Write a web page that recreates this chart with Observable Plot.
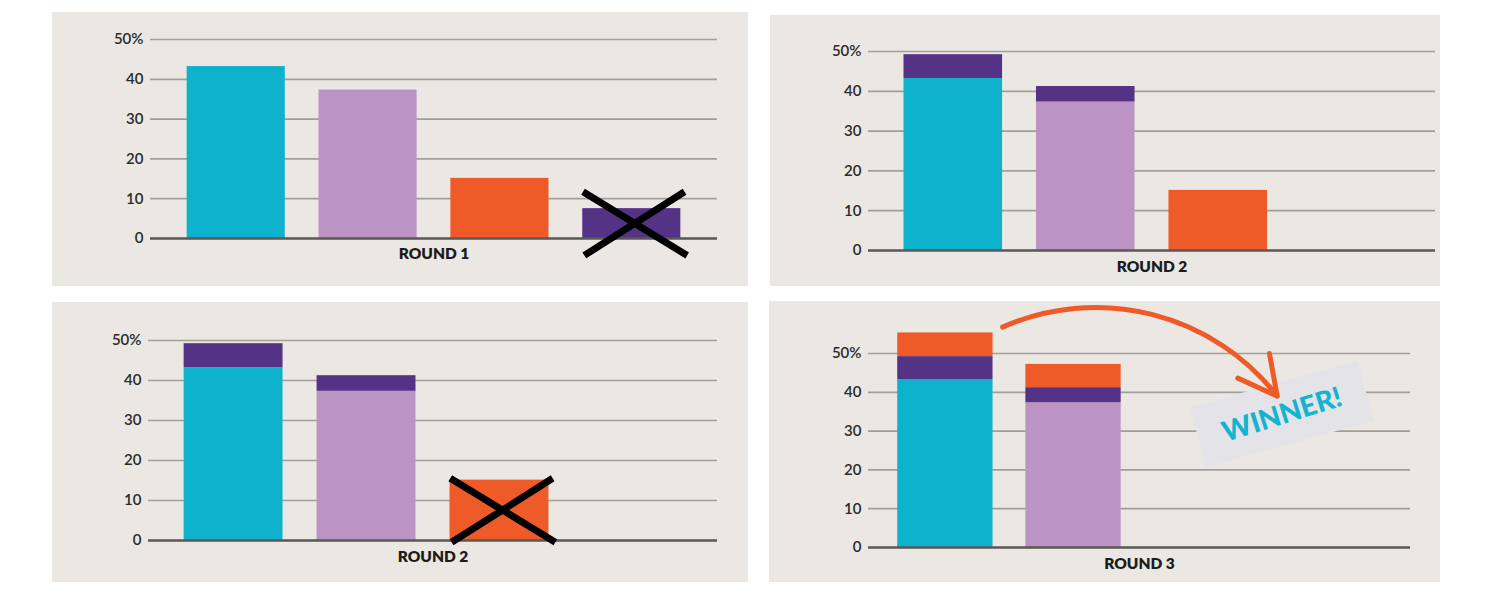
<!DOCTYPE html>
<html>
<head>
<meta charset="utf-8">
<script src="https://cdn.jsdelivr.net/npm/d3@7"></script>
<script src="https://cdn.jsdelivr.net/npm/@observablehq/plot@0.6"></script>
<style>
  html, body { margin: 0; padding: 0; background: #ffffff; }
  body { width: 1500px; height: 600px; position: relative; overflow: hidden; font-family: Lato, "Open Sans", sans-serif; }
  .panel { position: absolute; background: #ebe8e3; }
  .panel svg { display: block; }
</style>
</head>
<body>
<script>
// ---- data ----
const candidates = ["Teal", "Lilac", "Orange", "Purple"];
const candidateColors = ["#0fb2cc", "#bb94c3", "#ee5a28", "#543286"];
const firstChoice = [43.2, 37.3, 15.1, 7.5];          // round 1 share (%)
const purpleTransfers = [6.0, 3.9, 0, 0];             // purple votes moved in round 2
const orangeTransfers = [6.1, 6.0, 0, 0];             // orange votes moved in round 3
const yTicks = [0, 10, 20, 30, 40, 50];
const roundLabels = ["ROUND 1", "ROUND 2", "ROUND 2", "ROUND 3"];
const winnerLabel = "WINNER!";

// which candidates remain, and which eliminated candidates' votes are transferred, per round
const roundRemaining = {1: [0, 1, 2, 3], 2: [0, 1, 2], 3: [0, 1]};
const roundTransfers = {1: [], 2: [[3, purpleTransfers]], 3: [[3, purpleTransfers], [2, orangeTransfers]]};

function segmentsFor(round) {
  const rows = [];
  for (const i of roundRemaining[round]) {
    let base = firstChoice[i];
    rows.push({slot: i, candidate: candidates[i], y1: 0, y2: base, color: candidateColors[i]});
    for (const [from, t] of roundTransfers[round]) {
      if (t[i] > 0) {
        rows.push({slot: i, candidate: candidates[from], y1: base, y2: base + t[i], color: candidateColors[from]});
        base += t[i];
      }
    }
  }
  return rows;
}
function totalFor(round, i) {
  return firstChoice[i] + roundTransfers[round].reduce((s, [, t]) => s + t[i], 0);
}

// ---- layout ----
const HW = 0.372; // half bar width in slot units
const panels = [
  {left: 52,  top: 12,  width: 696, height: 274, mt: 27, mb: 48, ml: 98, mr: 31, xd: [-0.65, 3.65], round: 1, label: roundLabels[0], cross: 3, labelDy: 16},
  {left: 770, top: 15,  width: 670, height: 271, mt: 36, mb: 36, ml: 98, mr: 5,  xd: [-0.64, 3.64], round: 2, label: roundLabels[1], labelDy: 17},
  {left: 52,  top: 302, width: 696, height: 280, mt: 38, mb: 42, ml: 96, mr: 31, xd: [-0.64, 3.64], round: 2, label: roundLabels[2], cross: 2, labelDy: 16.5},
  {left: 769, top: 301, width: 671, height: 281, mt: 52, mb: 35, ml: 99, mr: 30, xd: [-0.60, 3.63], round: 3, label: roundLabels[3], winner: 0, labelDy: 16.5}
];

for (const p of panels) {
  const segs = segmentsFor(p.round);
  const marks = [
    Plot.ruleY(yTicks.filter(d => d > 0), {stroke: "#a29f9b", strokeWidth: 1.7}),
    Plot.rectY(segs, {x1: d => d.slot - HW, x2: d => d.slot + HW, y1: "y1", y2: "y2", fill: d => d.color}),
    Plot.ruleY([0], {stroke: "#5a5856", strokeWidth: 2.6}),
    Plot.text([p.label], {text: d => d, frameAnchor: "bottom", lineAnchor: "middle", dy: p.labelDy, fontSize: 15.5, fontWeight: 800, fill: "#1c1c1c"})
  ];
  if (p.cross != null) {
    const s = p.cross, mid = totalFor(p.round, s) / 2;
    const cross = [
      {x1: s - 0.37, y1: mid + 8, x2: s + 0.42, y2: mid - 8},
      {x1: s + 0.40, y1: mid + 8, x2: s - 0.36, y2: mid - 8}
    ];
    marks.push(Plot.link(cross, {x1: "x1", y1: "y1", x2: "x2", y2: "y2", stroke: "#000", strokeWidth: 7}));
  }
  if (p.winner != null) {
    const w = p.winner, top = totalFor(p.round, w);
    const arrowSpec = [{x1: w + HW + 0.075, y1: top + 1.5, x2: 2.59, y2: 39.0}];
    marks.push(Plot.arrow(arrowSpec, {x1: "x1", y1: "y1", x2: "x2", y2: "y2", bend: 38, stroke: "#ee5a28", strokeWidth: 5, headLength: 13, headAngle: 55}));
  }

  const svg = Plot.plot({
    width: p.width,
    height: p.height,
    marginTop: p.mt,
    marginBottom: p.mb,
    marginLeft: p.ml,
    marginRight: p.mr,
    x: {domain: p.xd, axis: null},
    y: {domain: [0, 50], ticks: 5, tickSize: 0, tickPadding: 7, tickFormat: d => d === 50 ? "50%" : String(d), label: null},
    style: {background: "transparent", fontFamily: "Lato, 'Open Sans', sans-serif", fontSize: "15px", fontWeight: 600, color: "#2a2a2a", overflow: "visible"},
    marks
  });

  const div = document.createElement("div");
  div.className = "panel";
  div.style.left = p.left + "px";
  div.style.top = p.top + "px";
  div.style.width = p.width + "px";
  div.style.height = p.height + "px";
  div.appendChild(svg);
  document.body.appendChild(div);

  if (p.winner != null) {
    // sticker placed with the panel's own scales, under the arrow
    const xs = d3.scaleLinear(p.xd, [p.ml, p.width - p.mr]);
    const ys = d3.scaleLinear([0, 50], [p.height - p.mb, p.mt]);
    const cx = xs(2.63), cy = ys(34.3);
    const ns = "http://www.w3.org/2000/svg";
    const g = document.createElementNS(ns, "g");
    g.setAttribute("transform", `translate(${cx},${cy}) rotate(-15.4)`);
    const rect = document.createElementNS(ns, "rect");
    rect.setAttribute("x", -87); rect.setAttribute("y", -31);
    rect.setAttribute("width", 174); rect.setAttribute("height", 62);
    rect.setAttribute("fill", "#e4e3e8");
    g.appendChild(rect);
    const t = document.createElementNS(ns, "text");
    t.setAttribute("transform", "rotate(-2)");
    t.setAttribute("text-anchor", "middle");
    t.setAttribute("dy", "0.36em");
    t.setAttribute("font-size", "28");
    t.setAttribute("font-weight", "900");
    t.setAttribute("font-family", "Lato, 'Open Sans', sans-serif");
    t.setAttribute("fill", "#13b4cf");
    t.textContent = winnerLabel;
    g.appendChild(t);
    const arrowG = svg.querySelector('[aria-label="arrow"]');
    if (arrowG) svg.insertBefore(g, arrowG); else svg.appendChild(g);
  }
}
</script>
</body>
</html>
